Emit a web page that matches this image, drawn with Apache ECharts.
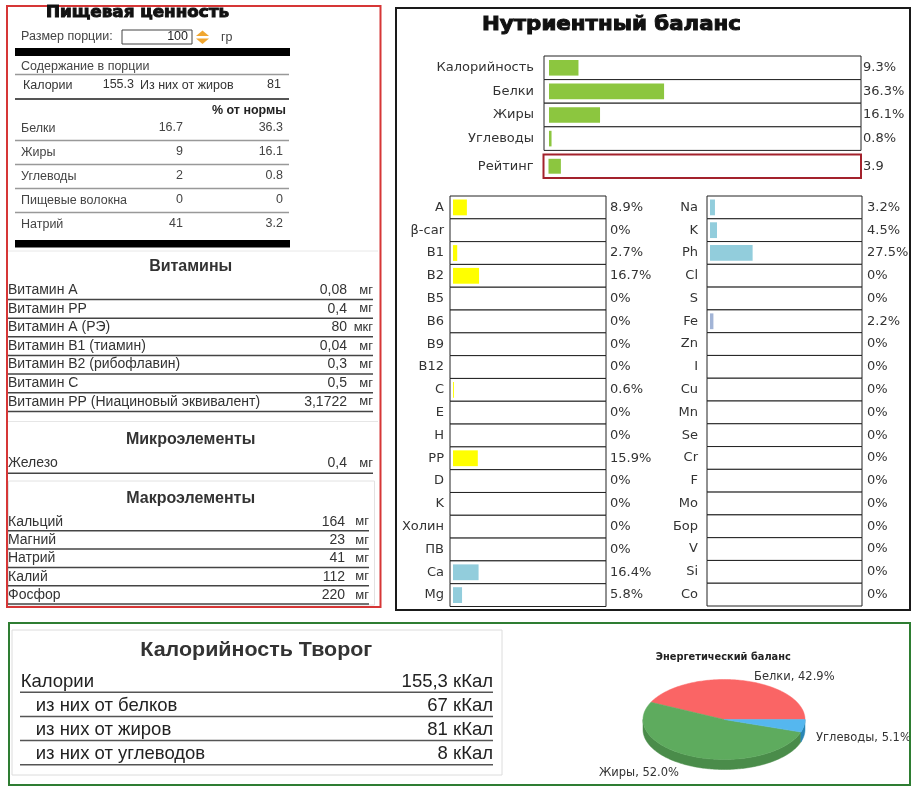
<!DOCTYPE html>
<html><head><meta charset="utf-8">
<script src="https://cdn.jsdelivr.net/npm/echarts@6/dist/echarts.min.js"></script>
<style>html,body{margin:0;padding:0;background:#fff}#c{width:919px;height:794px}</style>
</head><body><div id="c"></div>
<script>
// ---------------- DATA ----------------
const servingSize = 100;
const servingUnit = 'гр';
const summaryCalories = 155.3;
const summaryFatCalories = 81;
const nutrientNames = ['Белки', 'Жиры', 'Углеводы', 'Пищевые волокна', 'Натрий'];
const nutrientAmounts = [16.7, 9, 2, 0, 41];
const nutrientDailyPct = [36.3, 16.1, 0.8, 0, 3.2];

const vitaminNames = ['Витамин А', 'Витамин PP', 'Витамин А (РЭ)', 'Витамин B1 (тиамин)', 'Витамин B2 (рибофлавин)', 'Витамин C', 'Витамин PP (Ниациновый эквивалент)'];
const vitaminValues = ['0,08', '0,4', '80', '0,04', '0,3', '0,5', '3,1722'];
const vitaminUnits = ['мг', 'мг', 'мкг', 'мг', 'мг', 'мг', 'мг'];
const microNames = ['Железо'];
const microValues = ['0,4'];
const microUnits = ['мг'];
const macroNames = ['Кальций', 'Магний', 'Натрий', 'Калий', 'Фосфор'];
const macroValues = [164, 23, 41, 112, 220];
const macroUnits = ['мг', 'мг', 'мг', 'мг', 'мг'];

const balanceNames = ['Калорийность', 'Белки', 'Жиры', 'Углеводы'];
const balancePct = [9.3, 36.3, 16.1, 0.8];
const ratingNames = ['Рейтинг'];
const ratingValues = [3.9];
const vitaminCodes = ['A', 'β-car', 'B1', 'B2', 'B5', 'B6', 'B9', 'B12', 'C', 'E', 'H', 'PP', 'D', 'K', 'Холин', 'ПВ', 'Ca', 'Mg'];
const vitaminPct = [8.9, 0, 2.7, 16.7, 0, 0, 0, 0, 0.6, 0, 0, 15.9, 0, 0, 0, 0, 16.4, 5.8];
const mineralCodes = ['Na', 'K', 'Ph', 'Cl', 'S', 'Fe', 'Zn', 'I', 'Cu', 'Mn', 'Se', 'Cr', 'F', 'Mo', 'Бор', 'V', 'Si', 'Co'];
const mineralPct = [3.2, 4.5, 27.5, 0, 0, 2.2, 0, 0, 0, 0, 0, 0, 0, 0, 0, 0, 0, 0];

const calorieTitle = 'Калорийность Творог';
const calorieRowNames = ['Калории', 'из них от белков', 'из них от жиров', 'из них от углеводов'];
const calorieRowValues = ['155,3', '67', '81', '8'];
const calorieUnit = 'кКал';
const energyTitle = 'Энергетический баланс';
const energyNames = ['Белки', 'Жиры', 'Углеводы'];
const energyPct = [42.9, 52.0, 5.1];

// ---------------- HELPERS ----------------
const LS = 'Liberation Sans', DV = 'DejaVu Sans';
const _ctx = document.createElement('canvas').getContext('2d');
function mw(text, size, family, weight) {
  _ctx.font = (weight || 'normal') + ' ' + size + 'px "' + family + '"';
  return _ctx.measureText(text).width;
}
const G = [];
function T(x, y, text, o) {
  o = o || {};
  const size = o.size || 12, family = o.family || LS, weight = o.weight || 'normal', align = o.align || 'left';
  const st = {
    text: String(text), fill: o.color || '#333', fontSize: size, fontFamily: family, fontWeight: weight,
    textAlign: align, align: align, textVerticalAlign: 'middle', verticalAlign: 'middle'
  };
  if (o.heavy) { st.stroke = o.color || '#333'; st.lineWidth = o.heavy; }
  const el = { type: 'text', x: x, y: y, z: 20, style: st };
  if (o.fit) { el.scaleX = o.fit / mw(String(text), size, family, weight); }
  G.push(el);
}
function L(x1, y1, x2, y2, w, c) {
  G.push({ type: 'line', z: 15, shape: { x1: x1, y1: y1, x2: x2, y2: y2 }, style: { stroke: c, lineWidth: w } });
}
function R(x, y, w, h, o) {
  G.push({ type: 'rect', z: o.z || 12, shape: { x: x, y: y, width: w, height: h },
    style: { fill: o.fill || 'none', stroke: o.stroke || null, lineWidth: o.lw || 1 } });
}
function P(points, fill) {
  G.push({ type: 'polygon', z: 16, shape: { points: points }, style: { fill: fill } });
}

// ---------------- PANEL FRAMES ----------------
R(7, 6, 373.5, 601, { stroke: '#d63636', lw: 2 });
R(396, 8, 514, 602, { stroke: '#1a1a1a', lw: 2 });
R(9, 623, 901, 162, { stroke: '#2e7d32', lw: 2 });

// ---------------- LEFT PANEL ----------------
T(46, 13.5, 'Пищевая ценность', { size: 15, weight: 'bold', family: DV, color: '#111', fit: 183, heavy: 0.9 });
T(21, 37, 'Размер порции:', { size: 12.5, color: '#444' });
R(122, 30, 70, 14, { stroke: '#444', fill: '#fff' });
T(188, 37, servingSize, { size: 12.5, color: '#222', align: 'right' });
P([[196, 36], [202.5, 30.5], [209, 36]], '#f0a630');
P([[196, 38.5], [209, 38.5], [202.5, 44]], '#f0a630');
T(221, 37.5, servingUnit, { size: 12.5, color: '#444' });
R(15, 48, 275, 8, { fill: '#000' });
T(21, 66.7, 'Содержание в порции', { size: 12.5, color: '#444' });
L(15, 74.5, 289, 74.5, 1.5, '#999');
T(23, 86, 'Калории', { size: 12.5, color: '#333' });
T(134, 85, summaryCalories, { size: 12.5, color: '#333', align: 'right' });
T(140, 86, 'Из них от жиров', { size: 12.5, color: '#333' });
T(281, 85, summaryFatCalories, { size: 12.5, color: '#333', align: 'right' });
L(15, 99, 289, 99, 2, '#555');
T(286, 111, '% от нормы', { size: 12.5, weight: 'bold', color: '#222', align: 'right' });
nutrientNames.forEach(function (n, i) {
  const y = 129 + i * 24;
  T(21, y, n, { size: 12.5, color: '#444' });
  T(183, y - 1, nutrientAmounts[i], { size: 12.5, color: '#444', align: 'right' });
  T(283, y - 1, nutrientDailyPct[i], { size: 12.5, color: '#444', align: 'right' });
  if (i < nutrientNames.length - 1) L(15, y + 11.5, 289, y + 11.5, 1.5, '#999');
});
R(15, 240, 275, 7.5, { fill: '#000' });
L(8, 251, 378, 251, 1, '#e8e8e8');

T(190.7, 266.7, 'Витамины', { size: 16, weight: 'bold', color: '#333', align: 'center' });
vitaminNames.forEach(function (n, i) {
  const y = 290 + i * 18.65;
  T(8, y, n, { size: 14, color: '#333' });
  T(347, y, vitaminValues[i], { size: 14, color: '#333', align: 'right' });
  T(373, y, vitaminUnits[i], { size: 13, color: '#333', align: 'right' });
  L(8, y + 9.5, 373, y + 9.5, 1.5, '#444');
});
L(8, 421.5, 378, 421.5, 1, '#e6e6e6');
T(190.7, 439.3, 'Микроэлементы', { size: 16, weight: 'bold', color: '#333', align: 'center' });
microNames.forEach(function (n, i) {
  const y = 463.3 + i * 18.65;
  T(8, y, n, { size: 14, color: '#333' });
  T(347, y, microValues[i], { size: 14, color: '#333', align: 'right' });
  T(373, y, microUnits[i], { size: 13, color: '#333', align: 'right' });
  L(8, y + 10, 373, y + 10, 1.5, '#444');
});
R(8.5, 481, 366, 124, { stroke: '#e2e2e2', lw: 1 });
T(190.7, 498.3, 'Макроэлементы', { size: 16, weight: 'bold', color: '#333', align: 'center' });
macroNames.forEach(function (n, i) {
  const y = 521.7 + i * 18.35;
  T(8, y, n, { size: 14, color: '#333' });
  T(345, y, macroValues[i], { size: 14, color: '#333', align: 'right' });
  T(369, y, macroUnits[i], { size: 13, color: '#333', align: 'right' });
  L(8, y + 9, 369, y + 9, 1.5, '#444');
});

// ---------------- RIGHT PANEL TITLE ----------------
T(482, 25, 'Нутриентный баланс', { size: 20, weight: 'bold', family: DV, color: '#111', fit: 259, heavy: 1 });

// ---------------- BOTTOM PANEL ----------------
R(12, 630, 490, 145, { stroke: '#dcdcdc', lw: 1 });
T(256.3, 650, calorieTitle, { size: 20, weight: 'bold', color: '#333', align: 'center', fit: 232 });
calorieRowNames.forEach(function (n, i) {
  const y = 681.7 + i * 24.2;
  T(i === 0 ? 20.7 : 35.7, y, n, { size: 18.5, color: '#222' });
  T(493, y, calorieRowValues[i] + ' ' + calorieUnit, { size: 18.5, color: '#222', align: 'right' });
  L(20, y + 10.5, 493, y + 10.5, 1.5, '#555');
});
T(723.3, 657.7, energyTitle, { size: 10, weight: 'bold', family: DV, color: '#222', align: 'center', fit: 135 });

// ---------------- BAR RENDER ----------------
function makeBarRender(cfg) {
  return function (params, api) {
    const idx = api.value(0), v = api.value(1);
    const p0 = api.coord([0, idx]), p1 = api.coord([100, idx]), pv = api.coord([v, idx]);
    const h = api.size([0, 1])[1];
    const y0 = p0[1] - h / 2;
    const ch = [{
      type: 'rect', shape: { x: p0[0], y: y0, width: p1[0] - p0[0], height: h },
      style: { fill: '#fff', stroke: cfg.stroke, lineWidth: cfg.lw }
    }];
    if (v > 0) {
      ch.push({
        type: 'rect', shape: { x: p0[0] + cfg.inset, y: y0 + cfg.vin, width: pv[0] - p0[0], height: h - 2 * cfg.vin },
        style: { fill: cfg.color(idx) }
      });
    }
    const txt = cfg.fmt(v);
    ch.push({
      type: 'text', x: p1[0] + cfg.tx, y: p0[1] + cfg.ty,
      style: { text: txt, fill: '#333', fontSize: 13, fontFamily: DV, textVerticalAlign: 'middle', verticalAlign: 'middle', align: 'left', textAlign: 'left' }
    });
    return { type: 'group', children: ch };
  };
}
const pctFmt = function (v) { return v + '%'; };
const green = function () { return '#8cc63f'; };
function yAx(i, data, margin) {
  return {
    gridIndex: i, type: 'category', data: data, inverse: true,
    axisLine: { show: false }, axisTick: { show: false }, splitLine: { show: false },
    axisLabel: { margin: margin, fontSize: 13, fontFamily: DV, color: '#333' }
  };
}
function barSeries(i, vals, cfg) {
  return {
    type: 'custom', xAxisIndex: i, yAxisIndex: i, silent: true, clip: false,
    data: vals.map(function (v, j) { return [j, v]; }),
    encode: { x: 1, y: 0 },
    renderItem: makeBarRender(cfg)
  };
}

// ---------------- PIE RENDER ----------------
const PIE = { cx: 724, cy: 719.5, rx: 81, ry: 40, depth: 10 };
const pieTop = ['#fa6565', '#5eab5e', '#55b7ef'];
const pieSide = ['#c44c4c', '#4a8c4a', '#2a86b5'];
const pieLabelAt = [[754, 677, 'left'], [679, 772.7, 'right'], [816, 738.3, 'left']];
function pieRender(params, api) {
  const i = params.dataIndex, v = api.value(1);
  let start = 0;
  for (let k = 0; k < i; k++) start += energyPct[k];
  const a0 = start / 100 * Math.PI * 2, a1 = (start + v) / 100 * Math.PI * 2;
  const pt = function (a, dy) { return [PIE.cx + PIE.rx * Math.cos(a), PIE.cy - PIE.ry * Math.sin(a) + (dy || 0)]; };
  const arc = function (s, e, dy) {
    const n = Math.max(2, Math.ceil((e - s) / 0.02));
    const out = [];
    for (let j = 0; j <= n; j++) out.push(pt(s + (e - s) * j / n, dy));
    return out;
  };
  const ch = [];
  const s0 = Math.max(a0, Math.PI), s1 = Math.min(a1, Math.PI * 2);
  if (s1 > s0) {
    const side = arc(s0, s1, 0).concat(arc(s0, s1, PIE.depth).reverse());
    ch.push({ type: 'polygon', shape: { points: side }, style: { fill: pieSide[i], stroke: pieSide[i], lineWidth: 0.5 } });
  }
  const top = [[PIE.cx, PIE.cy]].concat(arc(a0, a1, 0));
  ch.push({ type: 'polygon', shape: { points: top }, style: { fill: pieTop[i], stroke: pieTop[i], lineWidth: 0.5 } });
  const lab = pieLabelAt[i];
  ch.push({
    type: 'text', x: lab[0], y: lab[1],
    style: { text: energyNames[i] + ', ' + v.toFixed(1) + '%', fill: '#333', fontSize: 11.5, fontFamily: DV,
      textAlign: lab[2], align: lab[2], textVerticalAlign: 'middle', verticalAlign: 'middle' }
  });
  return { type: 'group', children: ch };
}

// ---------------- OPTION ----------------
const chart = echarts.init(document.getElementById('c'), null, { renderer: 'canvas' });
chart.setOption({
  animation: false,
  backgroundColor: '#fff',
  grid: [
    { left: 544, top: 56, width: 317, height: 94.4 },
    { left: 543.5, top: 154.5, width: 317.5, height: 23.5 },
    { left: 450, top: 196, width: 156, height: 410.5 },
    { left: 707, top: 196, width: 155, height: 410 }
  ],
  xAxis: [0, 1, 2, 3].map(function (i) { return { gridIndex: i, type: 'value', min: 0, max: 100, show: false }; }),
  yAxis: [yAx(0, balanceNames, 10), yAx(1, ratingNames, 10), yAx(2, vitaminCodes, 6), yAx(3, mineralCodes, 9)],
  series: [
    barSeries(0, balancePct, { stroke: '#222', lw: 1, inset: 5, vin: 4, tx: 2, ty: 0, color: green, fmt: pctFmt }),
    barSeries(1, ratingValues, { stroke: '#a3222c', lw: 2, inset: 5, vin: 4.3, tx: 2, ty: 0, color: green, fmt: function (v) { return String(v); } }),
    barSeries(2, vitaminPct, { stroke: '#222', lw: 1, inset: 3, vin: 3.5, tx: 4, ty: 0, fmt: pctFmt,
      color: function (j) { return (vitaminCodes[j] === 'Ca' || vitaminCodes[j] === 'Mg') ? '#92cddc' : '#ffff00'; } }),
    barSeries(3, mineralPct, { stroke: '#222', lw: 1, inset: 3, vin: 3.5, tx: 5, ty: 0, fmt: pctFmt,
      color: function (j) { return mineralCodes[j] === 'Fe' ? '#a2b4d6' : '#92cddc'; } }),
    {
      type: 'custom', coordinateSystem: 'none', silent: true,
      data: energyPct.map(function (v, j) { return [j, v]; }),
      renderItem: pieRender
    }
  ],
  graphic: { elements: G }
});
</script>
</body></html>
